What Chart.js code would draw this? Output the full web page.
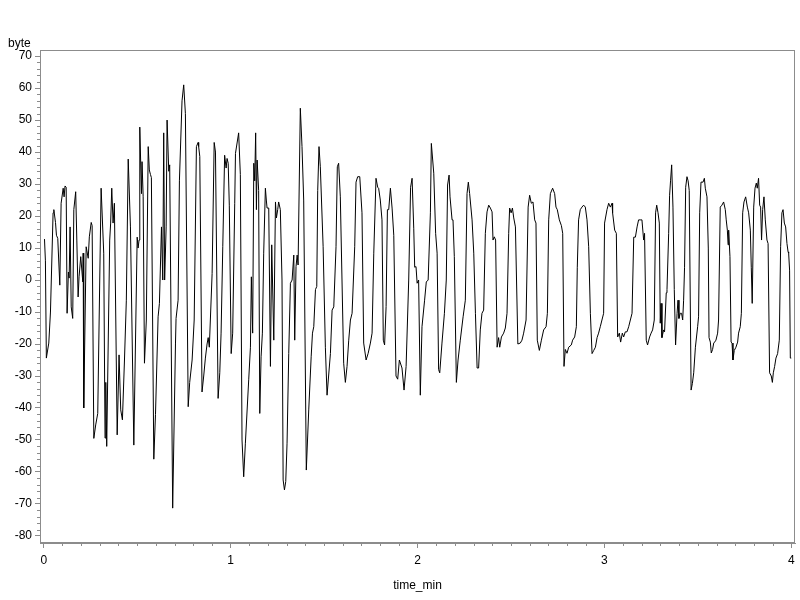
<!DOCTYPE html>
<html>
<head>
<meta charset="utf-8">
<script src="https://cdn.jsdelivr.net/npm/chart.js@4/dist/chart.umd.min.js"></script>
<style>
    body { margin: 0; background: #fff; }
    #wrap { width: 800px; height: 600px; }
</style>
</head>
<body>
<div id="wrap"><canvas id="chart" width="800" height="600"></canvas></div>
<script>
let chart;

// time_min (x) and byte (y)
const timeMin = [
    0.004, 0.009, 0.014, 0.027, 0.036, 0.050, 0.054, 0.063, 0.068, 0.075,
    0.086, 0.093, 0.104, 0.109, 0.114, 0.120, 0.125, 0.132, 0.136, 0.141,
    0.147, 0.155, 0.161, 0.171, 0.177, 0.184, 0.189, 0.198, 0.209, 0.211,
    0.214, 0.227, 0.238, 0.244, 0.254, 0.259, 0.268, 0.278, 0.289, 0.307,
    0.321, 0.328, 0.332, 0.337, 0.353, 0.358, 0.364, 0.371, 0.378, 0.393,
    0.403, 0.412, 0.421, 0.432, 0.442, 0.452, 0.464, 0.482, 0.500, 0.505,
    0.510, 0.514, 0.523, 0.526, 0.532, 0.539, 0.549, 0.559, 0.565, 0.571,
    0.576, 0.589, 0.598, 0.612, 0.619, 0.630, 0.637, 0.642, 0.647, 0.655,
    0.660, 0.669, 0.674, 0.690, 0.705, 0.708, 0.719, 0.726, 0.740, 0.749,
    0.758, 0.773, 0.781, 0.794, 0.805, 0.817, 0.826, 0.829, 0.835, 0.847,
    0.856, 0.865, 0.874, 0.880, 0.886, 0.901, 0.912, 0.919, 0.933, 0.942,
    0.949, 0.958, 0.968, 0.976, 0.981, 0.987, 0.993, 1.003, 1.011, 1.022,
    1.026, 1.043, 1.052, 1.061, 1.070, 1.079, 1.097, 1.106, 1.111, 1.118,
    1.124, 1.129, 1.134, 1.138, 1.142, 1.150, 1.156, 1.163, 1.170, 1.177,
    1.186, 1.191, 1.195, 1.204, 1.213, 1.220, 1.231, 1.240, 1.245, 1.252,
    1.257, 1.266, 1.275, 1.281, 1.288, 1.295, 1.302, 1.311, 1.320, 1.329,
    1.338, 1.343, 1.350, 1.356, 1.361, 1.373, 1.382, 1.391, 1.405, 1.418,
    1.431, 1.438, 1.445, 1.454, 1.461, 1.466, 1.473, 1.480, 1.495, 1.507,
    1.516, 1.534, 1.543, 1.552, 1.564, 1.571, 1.578, 1.587, 1.605, 1.614,
    1.623, 1.632, 1.641, 1.650, 1.664, 1.671, 1.680, 1.691, 1.703, 1.712,
    1.725, 1.736, 1.748, 1.757, 1.766, 1.778, 1.787, 1.792, 1.801, 1.810,
    1.817, 1.824, 1.832, 1.839, 1.846, 1.855, 1.864, 1.873, 1.885, 1.894,
    1.903, 1.917, 1.928, 1.939, 1.953, 1.963, 1.971, 1.980, 1.985, 1.992,
    1.998, 2.006, 2.015, 2.024, 2.038, 2.047, 2.057, 2.069, 2.074, 2.087,
    2.097, 2.105, 2.113, 2.119, 2.131, 2.144, 2.154, 2.161, 2.169, 2.174,
    2.185, 2.190, 2.197, 2.208, 2.217, 2.229, 2.244, 2.256, 2.265, 2.272,
    2.279, 2.292, 2.301, 2.310, 2.319, 2.327, 2.336, 2.345, 2.354, 2.363,
    2.372, 2.381, 2.390, 2.399, 2.404, 2.411, 2.418, 2.426, 2.434, 2.440,
    2.449, 2.461, 2.470, 2.479, 2.488, 2.493, 2.501, 2.508, 2.515, 2.524,
    2.537, 2.550, 2.559, 2.568, 2.581, 2.592, 2.600, 2.609, 2.618, 2.627,
    2.634, 2.641, 2.652, 2.663, 2.675, 2.688, 2.695, 2.702, 2.711, 2.723,
    2.734, 2.741, 2.748, 2.759, 2.770, 2.777, 2.784, 2.791, 2.800, 2.809,
    2.823, 2.830, 2.841, 2.850, 2.855, 2.862, 2.871, 2.880, 2.889, 2.898,
    2.907, 2.916, 2.925, 2.934, 2.943, 2.952, 2.961, 2.969, 2.978, 2.987,
    2.996, 3.001, 3.014, 3.023, 3.032, 3.041, 3.044, 3.055, 3.064, 3.071,
    3.080, 3.087, 3.096, 3.103, 3.112, 3.121, 3.130, 3.139, 3.148, 3.157,
    3.166, 3.175, 3.183, 3.192, 3.201, 3.210, 3.215, 3.224, 3.231, 3.242,
    3.250, 3.258, 3.267, 3.274, 3.280, 3.287, 3.294, 3.299, 3.303, 3.308,
    3.317, 3.322, 3.331, 3.335, 3.344, 3.349, 3.354, 3.360, 3.367, 3.374,
    3.381, 3.389, 3.394, 3.399, 3.406, 3.413, 3.419, 3.424, 3.429, 3.435,
    3.442, 3.448, 3.454, 3.464, 3.471, 3.478, 3.487, 3.499, 3.504, 3.510,
    3.517, 3.528, 3.535, 3.540, 3.549, 3.556, 3.560, 3.567, 3.572, 3.579,
    3.585, 3.590, 3.597, 3.606, 3.611, 3.620, 3.629, 3.638, 3.647, 3.652,
    3.658, 3.662, 3.665, 3.672, 3.678, 3.683, 3.688, 3.695, 3.704, 3.713,
    3.718, 3.727, 3.733, 3.740, 3.747, 3.756, 3.765, 3.772, 3.781, 3.786,
    3.791, 3.799, 3.806, 3.813, 3.818, 3.825, 3.831, 3.836, 3.841, 3.847,
    3.854, 3.861, 3.870, 3.876, 3.884, 3.893, 3.899, 3.904, 3.911, 3.918,
    3.927, 3.936, 3.943, 3.950, 3.956, 3.963, 3.970, 3.977, 3.983, 3.986,
    3.991, 3.995, 4.000
];

const byteVal = [
    12.8, 6, -24.4, -19.7, -10, 21, 22, 18, 14, 13,
    -1.6, 24, 28.7, 26, 29.4, 29, -10.4, 2.5, 0.6, 16.6,
    -8.4, -12, 22, 27.6, 12.5, -5.3, 1, 7.3, -0.6, 8.4,
    -40, 10.4, 6.8, 13.5, 18, 17, -49.5, -45.3, -41.7, 28.7,
    8.4, -49.4, -32, -52, 12.5, 17.8, 28.7, 17.8, 24, -48.4,
    -23.4, -40.6, -43.7, -25, -6.3, 37.8, 16.6, -51.6, 13.4, 10,
    12.5, 47.8, 27, 37, 26, -26, -12.5, 41.7, 34.4, 33,
    32, -56, -42, -11.5, -7.3, 16.6, 0, 46, 0, 16.6,
    50, 34, 36, -71.3, -19.7, -12, -6.3, 31, 56, 61,
    52, -39.6, -32, -25, -12.5, 41.7, 43, 41.7, 38.6, -35,
    -30, -24.4, -20, -18, -21, 2, 43, 40, -37, -29,
    -16.6, 10.4, 39, 35, 38, 36.5, 23.4, -23, -16.6, 24,
    39.6, 46, 33, -50, -61.5, -51, -31, -21, 1, -16.6,
    36.5, 31, 46, 22, 37.5, 28, -41.7, -24, -16.6, 8.4,
    28.7, 25, 22.5, 22.5, -27, 11, -18.8, 24.4, 19.4, 22,
    24.4, 22, 0, -62.5, -65.6, -63, -51, -23, -1, 0,
    7.8, -18.8, 4.2, 7.8, 4.7, 53.7, 41.7, 25, -59.4, -40.6,
    -24, -16.6, -14.6, -3, -2, 28, 41.7, 35.4, 10.4, -21,
    -36, -23, -9.4, -8.4, 10.4, 35.4, 36.5, 26, -26, -32,
    -27, -18.8, -12.5, -10.4, 10.4, 30.6, 32.3, 32.3, 21, -19.7,
    -25, -22.9, -19.7, -16.6, 8.4, 31.8, 29, 28.7, 25, 18.8,
    -18.8, -20.3, -8.3, 22, 22, 28.7, 22.5, 14, -30, -31,
    -25, -27.5, -34.4, -27, 0, 29, 31.8, 16, 4, 4.2,
    -1, 0, -36, -14.6, -6.3, -0.6, 0, 21, 42.7, 33.4,
    14.6, 8.4, -28, -29, -19.7, -10.4, 0, 29.7, 32.8, 26,
    18.8, 18.8, 7.3, -32, -25, -18.8, -11.5, -6.3, 27, 30.6,
    27, 18.8, 8.4, -10.4, -27.5, -27.5, -15.6, -10.4, -9.4, 14.6,
    21.3, 23.4, 22.5, 21.3, 12.5, 13.5, 12.5, -21, -18, -21,
    -17.8, -16.6, -15, -10.4, 14.6, 22.5, 21, 22.5, 19.4, 16.6,
    -20, -19.7, -18.8, -16.6, -12.5, 22.8, 26.5, 24, 24.4, 18.8,
    17.8, -18.8, -22, -18.8, -15.6, -14.6, -10.4, 18.8, 27, 28.7,
    27, 22.8, 22, 18.8, 17, 14.6, -27, -21.7, -22.9, -21,
    -20.3, -18.8, -17.8, -14.6, 4, 18.8, 22, 22.8, 23.4, 22.8,
    18.8, 10.4, -10.4, -23, -22, -21, -18, -16.6, -14.6, -12.5,
    -10.4, 17.8, 22, 24, 22.8, 24, 21, 15.6, 14.6, -17.8,
    -16.6, -19.4, -16.6, -17.8, -16.2, -16.2, -14.6, -12.5, -10.4, 13.4,
    13.4, 16.6, 18.8, 18.8, 18.8, 12.5, 14.6, -18.8, -20.3, -17.8,
    -16.6, -15.6, -12.5, 21, 23.4, 21, 17.8, -13.5, -7.3, -18,
    -15.6, -16.2, -4, -3, 14.6, 26.5, 31, 36, 22.8, -3,
    -20.3, -10.4, -6.3, -12, -10.4, -10.4, -12.5, -6.3, 4, 29,
    32.3, 31, 28, -34.4, -32.3, -29, -21, -14.6, -11.5, 21,
    30.6, 30.6, 31.8, 28.7, 26, 10, -18, -19.4, -22.8, -21.7,
    -19.7, -19.4, -18.8, -16.6, -12.5, 22.8, 23.4, 24.4, 22, 18.8,
    15.6, 11, 15.6, 7.3, -19.4, -19.7, -25, -22, -21, -19.4,
    -16.6, -14.6, -10.4, 21, 24.4, 26, 22.8, 21, 15.6, 4,
    -7.3, 22.8, 28.7, 30.3, 28.7, 31.8, 23.4, 22.8, 12.5, 22,
    26, 18.8, 12.5, 11.4, -29, -30, -32, -29, -27, -24.4,
    -23, -18.8, 10.4, 21, 22, 17.8, 16.6, 11.4, 8.8, 8.4,
    3.1, -24.4, -24.4
];

const xTickVals = [0, 1, 2, 3, 4];
const yTickVals = [-80, -70, -60, -50, -40, -30, -20, -10, 0, 10, 20, 30, 40, 50, 60, 70];

const axisGrey = '#8c8c8c';
const labelFont = { family: 'Liberation Sans, Arial, sans-serif', size: 12 };

// frame, minor ticks and the "byte" label
const extras = {
    id: 'extras',
    afterDraw(c) {
        const ctx = c.ctx;
        const a = c.chartArea;
        const xs = c.scales.x;
        const ys = c.scales.y;
        ctx.save();
        ctx.strokeStyle = axisGrey;
        ctx.lineWidth = 1;
        ctx.strokeRect(a.left + 0.5, a.top + 0.5, a.right - a.left - 1, a.bottom - a.top - 1);

        ctx.beginPath();
        for (let i = 1; i < 40; i++) {
            if (i % 10 === 0) continue;
            const px = Math.round(xs.getPixelForValue(i / 10)) + 0.5;
            ctx.moveTo(px, a.bottom);
            ctx.lineTo(px, a.bottom + 3);
        }
        for (let v = -78; v < 70; v += 2) {
            if (v % 10 === 0) continue;
            const py = Math.round(ys.getPixelForValue(v)) + 0.5;
            ctx.moveTo(a.left, py);
            ctx.lineTo(a.left - 3, py);
        }
        ctx.stroke();

        ctx.fillStyle = '#000';
        ctx.font = '12px "Liberation Sans", Arial, sans-serif';
        ctx.textAlign = 'left';
        ctx.textBaseline = 'alphabetic';
        ctx.fillText('byte', 8, 47);
        ctx.restore();
    }
};

document.addEventListener("DOMContentLoaded", function () {
    const points = timeMin.map((t, i) => ({ x: t, y: byteVal[i] }));
    const ctx = document.getElementById('chart').getContext('2d');
    chart = new Chart(ctx, {
        type: 'line',
        data: {
            datasets: [{
                label: 'byte',
                data: points,
                borderColor: '#000000',
                borderWidth: 1,
                pointRadius: 0,
                tension: 0,
                fill: false
            }]
        },
        options: {
            responsive: false,
            animation: false,
            layout: { padding: { top: 50, right: 5, left: 0, bottom: 0 } },
            plugins: {
                legend: { display: false },
                tooltip: { enabled: false }
            },
            scales: {
                x: {
                    type: 'linear',
                    min: -0.02,
                    max: 4.02,
                    afterBuildTicks: s => { s.ticks = xTickVals.map(v => ({ value: v })); },
                    afterFit: s => { s.height = 57; },
                    grid: { drawOnChartArea: false, tickLength: 5, color: axisGrey },
                    border: { color: axisGrey },
                    ticks: { color: '#000', font: labelFont, padding: 5, maxRotation: 0, autoSkip: false },
                    title: { display: true, text: 'time_min', color: '#000', font: labelFont, padding: { top: 0, bottom: 7 } }
                },
                y: {
                    min: -82.2,
                    max: 71.9,
                    afterBuildTicks: s => { s.ticks = yTickVals.map(v => ({ value: v })); },
                    afterFit: s => { s.width = 40; },
                    grid: { drawOnChartArea: false, tickLength: 5, color: axisGrey },
                    border: { color: axisGrey },
                    ticks: { color: '#000', font: labelFont, padding: 3, autoSkip: false }
                }
            }
        },
        plugins: [extras]
    });
});
</script>
</body>
</html>
